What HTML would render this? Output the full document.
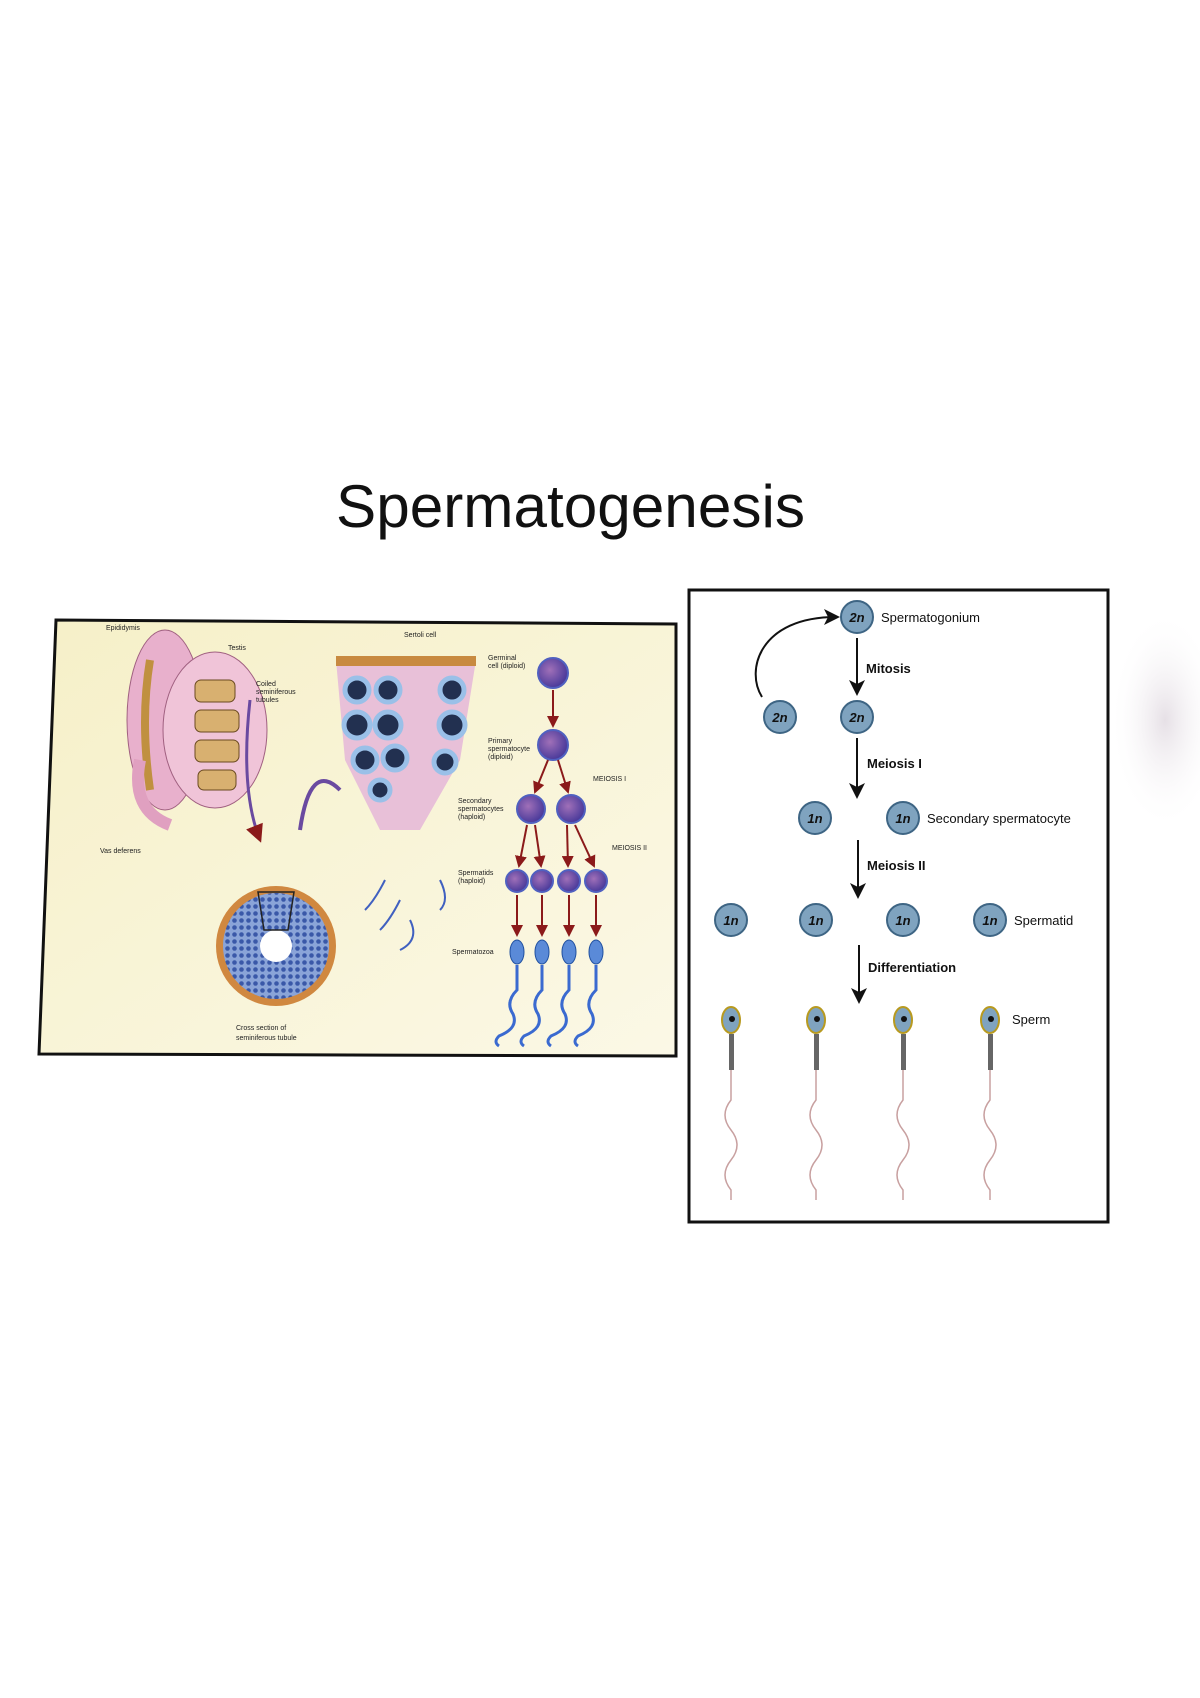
<!DOCTYPE html>
<html><head><meta charset="utf-8"><style>
html,body{margin:0;padding:0;background:#fff}
svg{display:block}
text{font-family:"Liberation Sans",sans-serif}
</style></head><body>
<svg width="1200" height="1698" viewBox="0 0 1200 1698" xmlns="http://www.w3.org/2000/svg">
<defs>
<linearGradient id="bg" x1="0" y1="0" x2="1" y2="1"><stop offset="0" stop-color="#f6f0c8"/><stop offset="1" stop-color="#fbf8e6"/></linearGradient>
<radialGradient id="pc" cx="0.4" cy="0.4" r="0.6"><stop offset="0" stop-color="#a070b8"/><stop offset="1" stop-color="#4a3a9a"/></radialGradient>
<radialGradient id="smudge" cx="0.5" cy="0.5" r="0.5"><stop offset="0" stop-color="#e6e0e6"/><stop offset="1" stop-color="#ffffff" stop-opacity="0"/></radialGradient>
<pattern id="dots" width="7" height="7" patternUnits="userSpaceOnUse"><rect width="7" height="7" fill="#8aa4d8"/><circle cx="3.5" cy="3.5" r="2.3" fill="#3a58a8"/></pattern>
<marker id="ah" markerWidth="8" markerHeight="8" refX="6" refY="4" orient="auto"><path d="M0,0 L8,4 L0,8 L2,4z" fill="#111"/></marker>
<marker id="rh" markerWidth="6" markerHeight="6" refX="5" refY="3" orient="auto"><path d="M0,0 L6,3 L0,6z" fill="#8b1a1a"/></marker>
</defs>
<rect width="1200" height="1698" fill="#fff"/>
<ellipse cx="1165" cy="720" rx="55" ry="110" fill="url(#smudge)"/>
<text x="336" y="527" font-size="60" textLength="469" lengthAdjust="spacingAndGlyphs" fill="#111">Spermatogenesis</text>

<!-- left panel -->
<polygon points="56,620 676,624 676,1056 39,1054" fill="url(#bg)" stroke="#111" stroke-width="3"/>
<!-- testis -->
<ellipse cx="165" cy="720" rx="38" ry="90" fill="#e8b0cc" stroke="#a06080"/>
<ellipse cx="215" cy="730" rx="52" ry="78" fill="#f0c4d8" stroke="#a06080"/>
<g fill="#d8b070" stroke="#6a4a20"><rect x="195" y="680" width="40" height="22" rx="6"/><rect x="195" y="710" width="44" height="22" rx="6"/><rect x="195" y="740" width="44" height="22" rx="6"/><rect x="198" y="770" width="38" height="20" rx="6"/></g>
<path d="M150,660 Q140,720 150,790" stroke="#c09040" stroke-width="8" fill="none"/>
<path d="M140,760 Q130,810 170,825" stroke="#e0a0c0" stroke-width="12" fill="none"/>
<!-- cross section -->
<circle cx="276" cy="946" r="60" fill="#d08840"/>
<circle cx="276" cy="946" r="53" fill="url(#dots)"/>
<circle cx="276" cy="946" r="16" fill="#fff"/>
<polygon points="258,892 294,892 288,930 264,930" fill="none" stroke="#222" stroke-width="1.5"/>
<path d="M250,700 Q240,790 260,840" stroke="#6a4aa0" stroke-width="3" fill="none" marker-end="url(#rh)"/>
<path d="M300,830 Q310,760 340,790" stroke="#6a4aa0" stroke-width="4" fill="none"/>
<!-- wedge -->
<polygon points="336,660 476,660 460,760 420,830 380,830 345,760" fill="#e8c0d8"/>
<rect x="336" y="656" width="140" height="10" fill="#c88a40"/>
<g fill="#223050" stroke="#9ac0e8" stroke-width="5">
<circle cx="357" cy="690" r="12"/><circle cx="388" cy="690" r="12"/><circle cx="452" cy="690" r="12"/>
<circle cx="357" cy="725" r="13"/><circle cx="388" cy="725" r="13"/><circle cx="452" cy="725" r="13"/>
<circle cx="365" cy="760" r="12"/><circle cx="395" cy="758" r="12"/><circle cx="445" cy="762" r="11"/><circle cx="380" cy="790" r="10"/>
</g>
<g stroke="#4060c0" stroke-width="2" fill="none"><path d="M385,880 q-10,20 -20,30"/><path d="M400,900 q-10,20 -20,30"/><path d="M440,880 q10,20 0,30"/><path d="M410,920 q10,20 -10,30"/></g>
<!-- right column cells -->
<g fill="url(#pc)" stroke="#5060c0" stroke-width="2">
<circle cx="553" cy="673" r="15"/><circle cx="553" cy="745" r="15"/>
<circle cx="531" cy="809" r="14"/><circle cx="571" cy="809" r="14"/>
<circle cx="517" cy="881" r="11"/><circle cx="542" cy="881" r="11"/><circle cx="569" cy="881" r="11"/><circle cx="596" cy="881" r="11"/>
</g>
<g stroke="#8b1a1a" stroke-width="2" marker-end="url(#rh)">
<line x1="553" y1="690" x2="553" y2="726"/><line x1="548" y1="760" x2="535" y2="792"/><line x1="558" y1="760" x2="568" y2="792"/>
<line x1="527" y1="825" x2="519" y2="866"/><line x1="535" y1="825" x2="541" y2="866"/><line x1="567" y1="825" x2="568" y2="866"/><line x1="575" y1="825" x2="594" y2="866"/>
<line x1="517" y1="895" x2="517" y2="935"/><line x1="542" y1="895" x2="542" y2="935"/><line x1="569" y1="895" x2="569" y2="935"/><line x1="596" y1="895" x2="596" y2="935"/>
</g>
<g fill="#5a8ad8" stroke="#2050a0"><ellipse cx="517" cy="952" rx="7" ry="12"/><ellipse cx="542" cy="952" rx="7" ry="12"/><ellipse cx="569" cy="952" rx="7" ry="12"/><ellipse cx="596" cy="952" rx="7" ry="12"/></g>
<g stroke="#3a6ad0" stroke-width="3" fill="none"><path d="M517,965 v25 q-12,12 -4,24 q6,14 -14,22 q-6,6 0,10"/><path d="M542,965 v25 q-12,12 -4,24 q6,14 -14,22 q-6,6 0,10"/><path d="M569,965 v25 q-12,12 -4,24 q6,14 -14,22 q-6,6 0,10"/><path d="M596,965 v25 q-12,12 -4,24 q6,14 -14,22 q-6,6 0,10"/></g>
<g font-size="7" fill="#222">
<text x="106" y="630">Epididymis</text><text x="228" y="650">Testis</text><text x="256" y="686">Coiled</text><text x="256" y="694">seminiferous</text><text x="256" y="702">tubules</text>
<text x="100" y="853">Vas deferens</text><text x="404" y="637">Sertoli cell</text><text x="488" y="660">Germinal</text><text x="488" y="668">cell (diploid)</text>
<text x="488" y="743">Primary</text><text x="488" y="751">spermatocyte</text><text x="488" y="759">(diploid)</text><text x="593" y="781">MEIOSIS I</text>
<text x="458" y="803">Secondary</text><text x="458" y="811">spermatocytes</text><text x="458" y="819">(haploid)</text><text x="612" y="850">MEIOSIS II</text>
<text x="458" y="875">Spermatids</text><text x="458" y="883">(haploid)</text><text x="452" y="954">Spermatozoa</text>
<text x="236" y="1030">Cross section of</text><text x="236" y="1040">seminiferous tubule</text>
</g>

<!-- right panel -->
<rect x="689" y="590" width="419" height="632" fill="#fff" stroke="#111" stroke-width="3"/>
<g fill="#7fa3bf" stroke="#3e6584" stroke-width="2">
<circle cx="857" cy="617" r="16"/><circle cx="780" cy="717" r="16"/><circle cx="857" cy="717" r="16"/>
<circle cx="815" cy="818" r="16"/><circle cx="903" cy="818" r="16"/>
<circle cx="731" cy="920" r="16"/><circle cx="816" cy="920" r="16"/><circle cx="903" cy="920" r="16"/><circle cx="990" cy="920" r="16"/>
</g>
<g font-size="13" font-weight="bold" fill="#111" text-anchor="middle" font-style="italic">
<text x="857" y="622">2n</text><text x="780" y="722">2n</text><text x="857" y="722">2n</text>
<text x="815" y="823">1n</text><text x="903" y="823">1n</text>
<text x="731" y="925">1n</text><text x="816" y="925">1n</text><text x="903" y="925">1n</text><text x="990" y="925">1n</text>
</g>
<g stroke="#111" stroke-width="2" fill="none" marker-end="url(#ah)">
<line x1="857" y1="638" x2="857" y2="692"/><line x1="857" y1="738" x2="857" y2="795"/>
<line x1="858" y1="840" x2="858" y2="895"/><line x1="859" y1="945" x2="859" y2="1000"/>
<path d="M762,697 C745,670 760,617 836,617"/>
</g>
<g font-size="13" fill="#111">
<text x="881" y="622">Spermatogonium</text><text x="927" y="823">Secondary spermatocyte</text><text x="1014" y="925">Spermatid</text><text x="1012" y="1024">Sperm</text>
</g>
<g font-size="13" font-weight="bold" fill="#111">
<text x="866" y="673">Mitosis</text><text x="867" y="768">Meiosis I</text><text x="867" y="870">Meiosis II</text><text x="868" y="972">Differentiation</text>
</g>
<g id="sp">
<ellipse cx="731" cy="1020" rx="9" ry="13" fill="#7fa3bf" stroke="#b89a20" stroke-width="2"/>
<circle cx="732" cy="1019" r="3" fill="#111"/>
<rect x="729" y="1034" width="5" height="36" fill="#666"/>
<path d="M731,1070 v30 q-12,15 0,30 q12,15 0,30 q-12,15 0,30 v10" stroke="#c8a0a0" stroke-width="1.5" fill="none"/>
</g>
<use href="#sp" x="85"/><use href="#sp" x="172"/><use href="#sp" x="259"/>
</svg>
</body></html>
